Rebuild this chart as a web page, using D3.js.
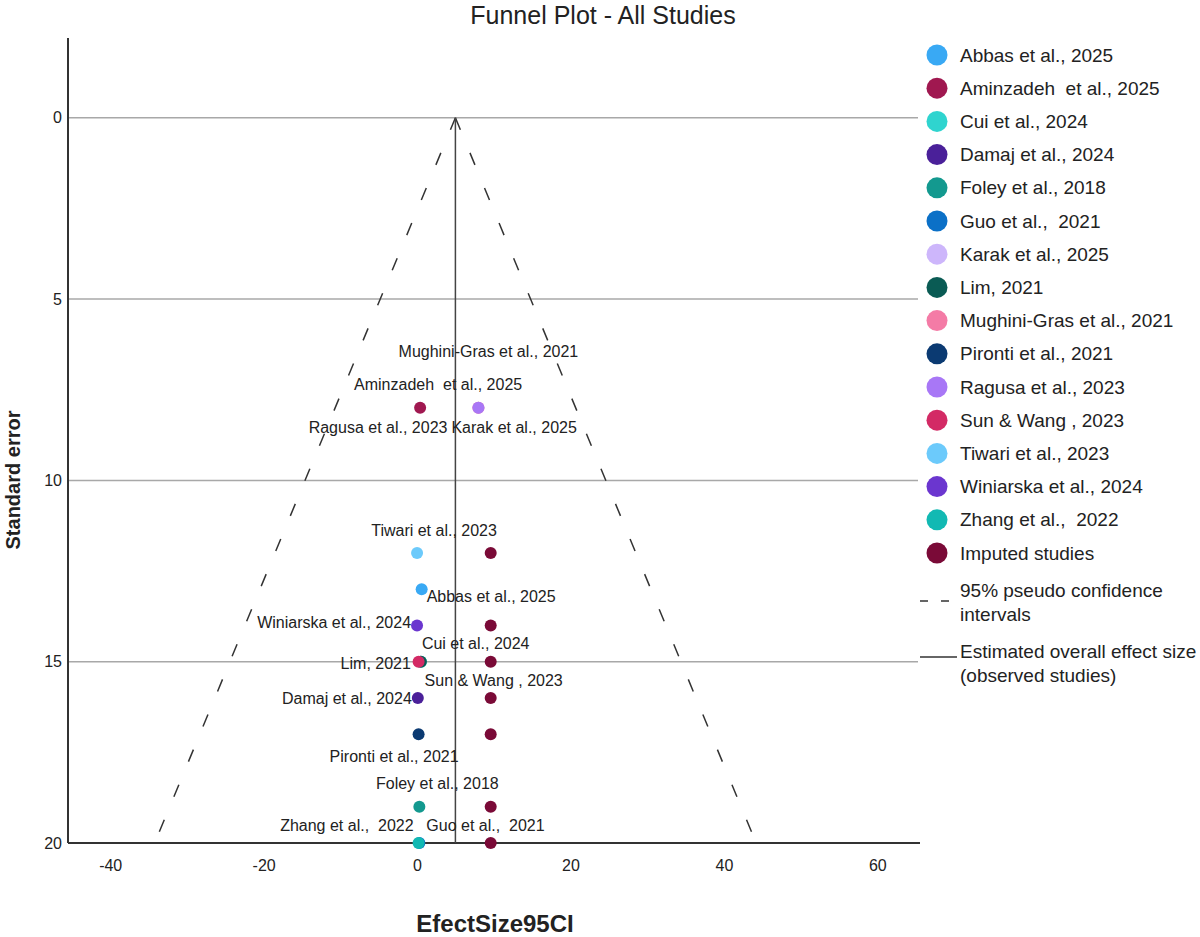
<!DOCTYPE html>
<html>
<head>
<meta charset="utf-8">
<script src="https://cdn.jsdelivr.net/npm/d3@7"></script>
<style>
  body { margin: 0; background: #fff; }
  svg text { font-family: "Liberation Sans", Arial, sans-serif; fill: #222; }
</style>
</head>
<body>
<div id="chart"></div>
<script>
var svgWidth = 1200;
var svgHeight = 937;

// studies, in legend order
var studies = ["Abbas et al., 2025", "Aminzadeh  et al., 2025", "Cui et al., 2024", "Damaj et al., 2024",
  "Foley et al., 2018", "Guo et al.,  2021", "Karak et al., 2025", "Lim, 2021",
  "Mughini-Gras et al., 2021", "Pironti et al., 2021", "Ragusa et al., 2023", "Sun & Wang , 2023",
  "Tiwari et al., 2023", "Winiarska et al., 2024", "Zhang et al.,  2022"];
var effectSize = [0.6, 0.4, 0.5, 0.1, 0.3, 0.3, 8.0, 0.5, 8.0, 0.2, 8.0, 0.2, 0.0, 0.0, 0.2];
var stdError   = [13, 8, 15, 16, 19, 20, 8, 15, 8, 17, 8, 15, 12, 14, 20];
var colors = ["#39a9f4", "#a01850", "#2fd4cf", "#4a2099", "#13998f", "#0b70c7", "#cdb6fb", "#0a5b54",
  "#f47ba6", "#0b3a72", "#a877f6", "#d32a65", "#6ccafb", "#6b36cf", "#12b9b3"];

var imputedES = [9.6, 9.6, 9.6, 9.6, 9.6, 9.6, 9.6];
var imputedSE = [12, 14, 15, 16, 17, 19, 20];
var imputedColor = "#7a0a37";

var overallES = 5.0;
var xTicks = [-40, -20, 0, 20, 40, 60];
var yTicks = [0, 5, 10, 15, 20];

// label placement per study: [dx, dy, anchor]
var labelPos = {
  "Mughini-Gras et al., 2021": [10, -56, "middle"],
  "Aminzadeh  et al., 2025": [18, -23, "middle"],
  "Ragusa et al., 2023": [-31, 20, "end"],
  "Karak et al., 2025": [-27, 20, "start"],
  "Tiwari et al., 2023": [17, -23, "middle"],
  "Abbas et al., 2025": [5, 7, "start"],
  "Winiarska et al., 2024": [-6, -3, "end"],
  "Cui et al., 2024": [1, -18, "start"],
  "Lim, 2021": [-10, 2, "end"],
  "Sun & Wang , 2023": [6, 19, "start"],
  "Damaj et al., 2024": [-6, 0, "end"],
  "Pironti et al., 2021": [40, 22, "end"],
  "Foley et al., 2018": [18, -23, "middle"],
  "Zhang et al.,  2022": [-5, -18, "end"],
  "Guo et al.,  2021": [7, -18, "start"]
};

var svg = d3.select("#chart").append("svg")
  .attr("width", svgWidth)
  .attr("height", svgHeight);

var plotLeft = 68, plotRight = 918, plotTop = 38, plotBottom = 843;

var x = d3.scaleLinear().domain([-45.5, 65.3]).range([plotLeft, plotRight]);
var y = d3.scaleLinear().domain([-2.2, 20]).range([plotTop, plotBottom]);

// grid lines
svg.append("g").selectAll("line")
  .data(yTicks.slice(0, -1))
  .enter().append("line")
  .attr("x1", plotLeft).attr("x2", plotRight)
  .attr("y1", d => y(d)).attr("y2", d => y(d))
  .attr("stroke", "#a8a8a8").attr("stroke-width", 1.5);

// axes
var xAxis = d3.axisBottom(x).tickValues(xTicks).tickSize(0).tickPadding(17)
  .tickFormat(d => String(d));
var yAxis = d3.axisLeft(y).tickValues(yTicks).tickSize(0).tickPadding(6)
  .tickFormat(d => String(d));

var gx = svg.append("g")
  .attr("transform", `translate(0, ${plotBottom})`)
  .call(xAxis);
gx.select(".domain").attr("stroke", "#333").attr("stroke-width", 2)
  .attr("d", `M${plotLeft},0H${plotRight + 2}`);
gx.selectAll("text").style("font-size", "16px").attr("fill", "#222");

var gy = svg.append("g")
  .attr("transform", `translate(${plotLeft}, 0)`)
  .call(yAxis);
gy.select(".domain").attr("stroke", "#333").attr("stroke-width", 2)
  .attr("d", `M0,${plotTop}V${plotBottom}`);
gy.selectAll("text").style("font-size", "16px").attr("fill", "#222");

// pseudo confidence intervals
var funnelSE = [0, 20];
var leftLine = d3.line().x(d => x(overallES - 1.96 * d)).y(d => y(d));
var rightLine = d3.line().x(d => x(overallES + 1.96 * d)).y(d => y(d));
[leftLine, rightLine].forEach(function(gen) {
  svg.append("path")
    .attr("d", gen(funnelSE))
    .attr("fill", "none")
    .attr("stroke", "#333")
    .attr("stroke-width", 1.5)
    .attr("stroke-dasharray", "13,25");
});

// overall effect line
svg.append("line")
  .attr("x1", x(overallES)).attr("x2", x(overallES))
  .attr("y1", y(0)).attr("y2", plotBottom)
  .attr("stroke", "#444").attr("stroke-width", 1.5);

// imputed points
svg.append("g").selectAll("circle")
  .data(imputedSE)
  .enter().append("circle")
  .attr("cx", (d, i) => x(imputedES[i]))
  .attr("cy", d => y(d))
  .attr("r", 6)
  .attr("fill", imputedColor);

// observed points
var obs = studies.map((s, i) => ({ name: s, es: effectSize[i], se: stdError[i], color: colors[i] }));
svg.append("g").selectAll("circle")
  .data(obs)
  .enter().append("circle")
  .attr("cx", d => x(d.es))
  .attr("cy", d => y(d.se))
  .attr("r", 6)
  .attr("fill", d => d.color);

// point labels
svg.append("g").selectAll("text")
  .data(obs)
  .enter().append("text")
  .attr("x", d => x(d.es) + labelPos[d.name][0])
  .attr("y", d => y(d.se) + labelPos[d.name][1])
  .attr("dy", "0.35em")
  .attr("text-anchor", d => labelPos[d.name][2])
  .style("font-size", "16px")
  .style("white-space", "pre")
  .text(d => d.name);

// titles
svg.append("text")
  .attr("x", 603).attr("y", 24)
  .attr("text-anchor", "middle")
  .style("font-size", "25px")
  .text("Funnel Plot - All Studies");

svg.append("text")
  .attr("x", 495).attr("y", 932)
  .attr("text-anchor", "middle")
  .style("font-size", "24px").style("font-weight", "bold")
  .text("EfectSize95CI");

svg.append("text")
  .attr("transform", "translate(20, 480) rotate(-90)")
  .attr("text-anchor", "middle")
  .style("font-size", "20px").style("font-weight", "bold")
  .text("Standard error");

// legend
var legendX = 937, legendY = 55, legendStep = 33.2;
var legendItems = studies.concat(["Imputed studies"]);
var legendColors = colors.concat([imputedColor]);
var legend = svg.append("g");
legend.selectAll("circle")
  .data(legendItems)
  .enter().append("circle")
  .attr("cx", legendX)
  .attr("cy", (d, i) => legendY + i * legendStep)
  .attr("r", 10.5)
  .attr("fill", (d, i) => legendColors[i]);
legend.selectAll("text")
  .data(legendItems)
  .enter().append("text")
  .attr("x", 960)
  .attr("y", (d, i) => legendY + i * legendStep)
  .attr("dy", "0.35em")
  .style("font-size", "19px")
  .style("white-space", "pre")
  .text(d => d);

legend.append("line")
  .attr("x1", 920).attr("x2", 957).attr("y1", 601).attr("y2", 601)
  .attr("stroke", "#333").attr("stroke-width", 1.5).attr("stroke-dasharray", "8,13");
legend.append("text").attr("x", 960).attr("y", 590).attr("dy", "0.35em")
  .style("font-size", "19px").text("95% pseudo confidence");
legend.append("text").attr("x", 960).attr("y", 614).attr("dy", "0.35em")
  .style("font-size", "19px").text("intervals");

legend.append("line")
  .attr("x1", 920).attr("x2", 957).attr("y1", 657).attr("y2", 657)
  .attr("stroke", "#333").attr("stroke-width", 1.5);
legend.append("text").attr("x", 960).attr("y", 651).attr("dy", "0.35em")
  .style("font-size", "19px").text("Estimated overall effect size");
legend.append("text").attr("x", 960).attr("y", 675).attr("dy", "0.35em")
  .style("font-size", "19px").text("(observed studies)");
</script>
</body>
</html>
